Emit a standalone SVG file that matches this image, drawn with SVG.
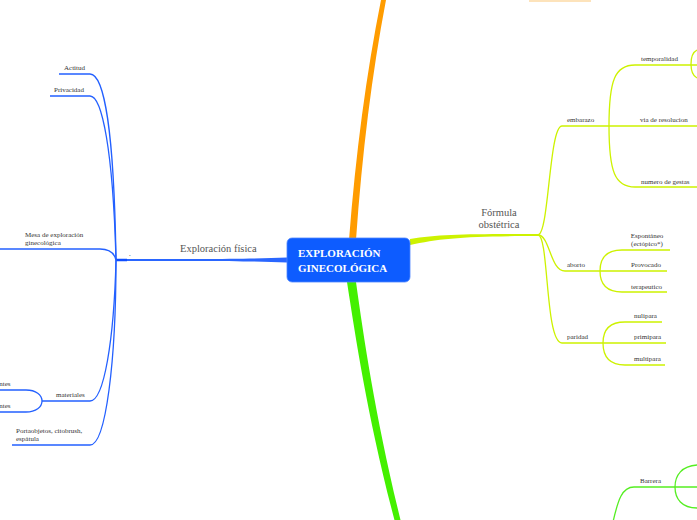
<svg xmlns="http://www.w3.org/2000/svg" width="697" height="520" viewBox="0 0 697 520">
<style>
.t{font-family:"Liberation Serif","Times New Roman",serif;font-size:7px;fill:#333}
.lbl{font-family:"Liberation Serif","Times New Roman",serif;font-size:10.5px;fill:#555}
.ctr{font-family:"Liberation Serif","Times New Roman",serif;font-size:11px;font-weight:bold;fill:#fff}
.b{fill:none;stroke:#2360ff;stroke-width:1.3}
.y{fill:none;stroke:#cdf200;stroke-width:1.3}
.g{fill:none;stroke:#55ee22;stroke-width:1.3}
</style>
<rect width="697" height="520" fill="#fff"/>
<rect x="529" y="-4" width="62" height="6" fill="#fde3bb"/>
<g id="connectors">
  <!-- main branches -->
  <path d="M349,240 Q359,110 381,0 L386,0 Q365,110 356,240 Z" fill="#ff9c00"/>
  <path d="M347,282 C356,340 368,420 395,522 L401,522 C376,420 364,340 356,282 Z" fill="#44f000"/>
  <path d="M287,257.5 L287,262.5 C250,261 200,261 126,261 L126,259 C200,259 250,259 287,257.5 Z" fill="#2a66ff"/>
  <path d="M116,260 H127" stroke="#0f4dff" stroke-width="2.5"/>
  <path d="M410,239 L410,245 C440,238 470,236 538,236 L538,234 C470,234 440,234 410,239 Z" fill="#cdf200"/>
  <!-- left blue -->
  <path class="b" d="M59,74 H90 C104,74 114,130 116,260"/>
  <path class="b" d="M50,96 H90 C102,96 113,150 116,260"/>
  <path class="b" d="M0,249 H100 C108,249 114,252 116,260"/>
  <path class="b" d="M42,401 H90 C104,401 114,340 116,260"/>
  <path class="b" d="M12,445 H90 C106,445 116,360 116,260"/>
  <path class="b" d="M0,390 H26 C36,390 42,395 42,401 C42,407 36,412 26,412 H0"/>
  <!-- right yellow -->
  <path class="y" d="M538,235 C549,235 549,126 562,126 H697"/>
  <path class="y" d="M609,126 C609,80 615,65 635,65 H697"/>
  <path class="y" d="M609,126 C609,172 615,187 635,187 H697"/>
  <path class="y" d="M697,50 C693,52 691,58 691,64 C691,71 693,76 697,78"/>
  <path class="y" d="M538,235 C550,235 550,271 565,271 H667"/>
  <path class="y" d="M600,271 C600,256 608,250 622,250 H670"/>
  <path class="y" d="M600,271 C600,286 608,292 622,292 H667"/>
  <path class="y" d="M538,235 C549,235 545,343 562,343 H666"/>
  <path class="y" d="M603,343 C603,328 611,322 625,322 H662"/>
  <path class="y" d="M603,343 C603,358 611,365 625,365 H665"/>
  <!-- right green -->
  <path class="g" d="M613,522 C618,500 622,487 634,487 H697"/>
  <path class="g" d="M697,465 C682,466 675,475 675,487 C675,499 682,508 697,508"/>
</g>
<g id="node-central">
  <rect x="287" y="238" width="123" height="44" rx="5" fill="#0d5cff" stroke="#4f86ff" stroke-width="0.8"/>
  <text class="ctr" x="298" y="257">EXPLORACIÓN</text>
  <text class="ctr" x="298" y="272">GINECOLÓGICA</text>
</g>
<g id="node-exploracion-fisica"><text class="lbl" x="180" y="252">Exploración física</text></g>
<g id="node-dot"><text class="t" x="129" y="256">.</text></g>
<g id="node-actitud"><text class="t" x="64" y="69.5">Actitud</text></g>
<g id="node-privacidad"><text class="t" x="54" y="91.5">Privacidad</text></g>
<g id="node-mesa"><text class="t" x="25" y="236.5">Mesa de exploración</text><text class="t" x="25" y="244.5">ginecológica</text></g>
<g id="node-materiales"><text class="t" x="56" y="396.5">materiales</text></g>
<g id="node-ntes1"><text class="t" x="10.5" y="385.5" text-anchor="end">ntes</text></g>
<g id="node-ntes2"><text class="t" x="10.5" y="407.5" text-anchor="end">ntes</text></g>
<g id="node-portaobjetos"><text class="t" x="16" y="432.5">Portaobjetos, citobrush,</text><text class="t" x="16" y="440.5">espátula</text></g>
<g id="node-formula"><text class="lbl" x="499" y="216" text-anchor="middle">Fórmula</text><text class="lbl" x="499" y="228" text-anchor="middle">obstétrica</text></g>
<g id="node-embarazo"><text class="t" x="567" y="121.5">embarazo</text></g>
<g id="node-temporalidad"><text class="t" x="641" y="60.5">temporalidad</text></g>
<g id="node-via"><text class="t" x="640" y="121.5">via de resolucion</text></g>
<g id="node-numero"><text class="t" x="641" y="183.5">numero de gestas</text></g>
<g id="node-aborto"><text class="t" x="567" y="266.5">aborto</text></g>
<g id="node-espontaneo"><text class="t" x="647" y="237.5" text-anchor="middle">Espontáneo</text><text class="t" x="647" y="245.5" text-anchor="middle">(ectópico*)</text></g>
<g id="node-provocado"><text class="t" x="631" y="266.5">Provocado</text></g>
<g id="node-terapeutico"><text class="t" x="631" y="288.5">terapeutico</text></g>
<g id="node-paridad"><text class="t" x="567" y="338.5">paridad</text></g>
<g id="node-nulipara"><text class="t" x="634" y="317.5">nulipara</text></g>
<g id="node-primipara"><text class="t" x="634" y="338.5">primipara</text></g>
<g id="node-multipara"><text class="t" x="634" y="360.5">multipara</text></g>
<g id="node-barrera"><text class="t" x="640" y="482.5">Barrera</text></g>
</svg>
